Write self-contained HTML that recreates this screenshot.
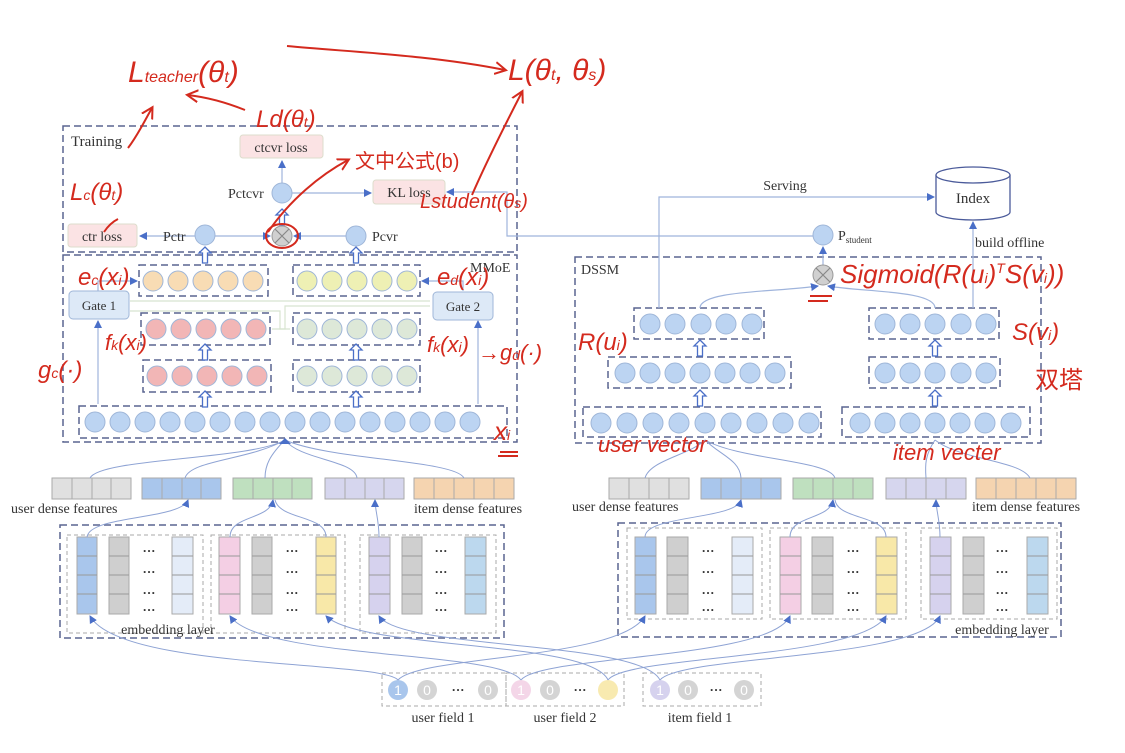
<!DOCTYPE html>
<html><head><meta charset="utf-8"><style>
html,body{margin:0;padding:0;background:#fff;}
svg{display:block;}
.t{font-family:"Liberation Serif",serif;fill:#333;}
.r{font-family:"Liberation Sans","Noto Sans CJK SC",sans-serif;fill:#d42a1e;font-style:italic;}
</style></head><body>
<svg width="1125" height="753" viewBox="0 0 1125 753" xmlns="http://www.w3.org/2000/svg">
<defs>
<circle id="c" r="10" stroke="#9fb6d8" stroke-width="1"/>
<marker id="a" markerWidth="8" markerHeight="8" refX="7" refY="4" orient="auto" markerUnits="userSpaceOnUse"><path d="M0,0 L8,4 L0,8 z" fill="#4a6fc8"/></marker>
<marker id="ra" markerWidth="14" markerHeight="14" refX="10" refY="7" orient="auto" markerUnits="userSpaceOnUse"><path d="M0,1 L11,7 L0,13" fill="none" stroke="#d42a1e" stroke-width="2"/></marker>
<g id="ua"><path d="M0,-8 L6,-2 L2.5,-2 L2.5,8 L-2.5,8 L-2.5,-2 L-6,-2 z" fill="#fff" stroke="#4a6fc8" stroke-width="1.3"/></g>
</defs>

<!-- main dashed boxes -->
<g fill="none" stroke="#5a6590" stroke-width="1.5" stroke-dasharray="7,4">
<rect x="63" y="126" width="454" height="126"/>
<rect x="63" y="255" width="454" height="187"/>
<rect x="575" y="257" width="466" height="186"/>
<!-- MMoE rows -->
<rect x="139" y="265" width="129" height="31"/>
<rect x="293" y="265" width="127" height="31"/>
<rect x="141" y="313" width="129" height="32"/>
<rect x="293" y="313" width="127" height="32"/>
<rect x="143" y="360" width="128" height="32"/>
<rect x="293" y="360" width="127" height="32"/>
<rect x="79" y="406" width="428" height="32"/>
<!-- DSSM rows -->
<rect x="634" y="308" width="130" height="31"/>
<rect x="608" y="357" width="183" height="31"/>
<rect x="583" y="407" width="238" height="30"/>
<rect x="869" y="308" width="130" height="31"/>
<rect x="869" y="357" width="131" height="31"/>
<rect x="842" y="407" width="188" height="30"/>
<!-- embedding boxes -->
<rect x="60" y="525" width="444" height="113"/>
<rect x="618" y="523" width="443" height="114"/>
</g>
<g fill="none" stroke="#aaa" stroke-width="1" stroke-dasharray="4,3">
<rect x="67" y="535" width="136" height="98"/><rect x="211" y="535" width="134" height="98"/><rect x="360" y="535" width="136" height="98"/>
<rect x="627" y="528" width="135" height="91"/><rect x="770" y="528" width="136" height="91"/><rect x="921" y="528" width="136" height="91"/>
<rect x="382" y="673" width="124" height="33"/><rect x="506" y="673" width="118" height="33"/><rect x="643" y="673" width="118" height="33"/>
</g>

<text class="t" x="71" y="146" font-size="15">Training</text>
<text class="t" x="470" y="272" font-size="14">MMoE</text>
<text class="t" x="581" y="274" font-size="14">DSSM</text>

<!-- loss boxes -->
<g fill="#fbe3e4" stroke="#ddc" stroke-width="1">
<rect x="240" y="135" width="83" height="23" rx="3"/>
<rect x="373" y="180" width="72" height="24" rx="3"/>
<rect x="68" y="224" width="69" height="23" rx="3"/>
</g>
<text class="t" x="281" y="152" font-size="14" text-anchor="middle">ctcvr loss</text>
<text class="t" x="409" y="197" font-size="14" text-anchor="middle">KL loss</text>
<text class="t" x="102" y="241" font-size="14" text-anchor="middle">ctr loss</text>

<!-- training connectors -->
<g stroke="#9fb4dc" stroke-width="1.2" fill="none">
<line x1="282" y1="183" x2="282" y2="161" marker-end="url(#a)"/>
<line x1="292" y1="193" x2="371" y2="193" marker-end="url(#a)"/>
<line x1="195" y1="236" x2="140" y2="236" marker-end="url(#a)"/>
<line x1="215" y1="236" x2="270" y2="236" marker-end="url(#a)"/>
<line x1="346" y1="236" x2="294" y2="236" marker-end="url(#a)"/>
<polyline points="813,236 507,236 507,192 447,192" marker-end="url(#a)"/>
<polyline points="659,308 659,197 934,197" marker-end="url(#a)"/>
<line x1="973" y1="308" x2="973" y2="222" marker-end="url(#a)"/>
<line x1="823" y1="265" x2="823" y2="247" marker-end="url(#a)"/>
<path d="M700,308 C700,290 780,292 818,286" marker-end="url(#a)"/>
<path d="M935,308 C935,290 860,292 828,286" marker-end="url(#a)"/>
<!-- gates -->
<polyline points="98,291 98,281 137,281" marker-end="url(#a)"/>
<polyline points="463,291 463,281 422,281" marker-end="url(#a)"/>
<line x1="98" y1="404" x2="98" y2="321" marker-end="url(#a)"/>
<line x1="478" y1="404" x2="478" y2="321" marker-end="url(#a)"/>
</g>
<g stroke="#d8e4d0" stroke-width="1.2" fill="none">
<line x1="430" y1="301" x2="130" y2="301"/>
<polyline points="272,329 285,329 285,306 430,306"/>
<polyline points="290,329 280,329 280,311 130,311"/>
</g>

<g fill="#bcd4f2">
<use href="#c" x="282" y="193"/><use href="#c" x="205" y="235"/><use href="#c" x="356" y="236"/>
<use href="#c" x="823" y="235"/>
</g>
<circle cx="282" cy="236" r="10" fill="#d0d0d0" stroke="#999"/>
<path d="M275,229 L289,243 M289,229 L275,243" stroke="#888" stroke-width="1.2"/>
<circle cx="823" cy="275" r="10" fill="#d0d0d0" stroke="#999"/>
<path d="M816,268 L830,282 M830,268 L816,282" stroke="#888" stroke-width="1.2"/>
<text class="t" x="163" y="241" font-size="14">Pctr</text>
<text class="t" x="372" y="241" font-size="14">Pcvr</text>
<text class="t" x="228" y="198" font-size="14">Pctcvr</text>
<text class="t" x="838" y="240" font-size="14">P<tspan font-size="9" dy="3">student</tspan></text>
<text class="t" x="785" y="190" font-size="14" text-anchor="middle">Serving</text>
<text class="t" x="975" y="247" font-size="14">build offline</text>

<!-- Index cylinder -->
<path d="M936,175 L936,212 A37,8 0 0 0 1010,212 L1010,175" fill="#fff" stroke="#4a5a9a" stroke-width="1.3"/>
<ellipse cx="973" cy="175" rx="37" ry="8" fill="#fff" stroke="#4a5a9a" stroke-width="1.3"/>
<text class="t" x="973" y="203" font-size="15" text-anchor="middle">Index</text>

<!-- gates -->
<rect x="69" y="291" width="60" height="28" rx="4" fill="#dde9f7" stroke="#9fb6d8"/>
<text class="t" x="99" y="310" font-size="13" text-anchor="middle">Gate 1</text>
<rect x="433" y="292" width="60" height="28" rx="4" fill="#dde9f7" stroke="#9fb6d8"/>
<text class="t" x="463" y="311" font-size="13" text-anchor="middle">Gate 2</text>

<!-- MMoE circles -->
<g fill="#f8dcb4"><use href="#c" x="153" y="281"/><use href="#c" x="178" y="281"/><use href="#c" x="203" y="281"/><use href="#c" x="228" y="281"/><use href="#c" x="253" y="281"/></g>
<g fill="#eef0b4"><use href="#c" x="307" y="281"/><use href="#c" x="332" y="281"/><use href="#c" x="357" y="281"/><use href="#c" x="382" y="281"/><use href="#c" x="407" y="281"/></g>
<g fill="#f2b6b6"><use href="#c" x="156" y="329"/><use href="#c" x="181" y="329"/><use href="#c" x="206" y="329"/><use href="#c" x="231" y="329"/><use href="#c" x="256" y="329"/>
<use href="#c" x="157" y="376"/><use href="#c" x="182" y="376"/><use href="#c" x="207" y="376"/><use href="#c" x="232" y="376"/><use href="#c" x="257" y="376"/></g>
<g fill="#dde8d8"><use href="#c" x="307" y="329"/><use href="#c" x="332" y="329"/><use href="#c" x="357" y="329"/><use href="#c" x="382" y="329"/><use href="#c" x="407" y="329"/>
<use href="#c" x="307" y="376"/><use href="#c" x="332" y="376"/><use href="#c" x="357" y="376"/><use href="#c" x="382" y="376"/><use href="#c" x="407" y="376"/></g>
<g fill="#bcd4f2">
<use href="#c" x="95" y="422"/><use href="#c" x="120" y="422"/><use href="#c" x="145" y="422"/><use href="#c" x="170" y="422"/><use href="#c" x="195" y="422"/><use href="#c" x="220" y="422"/><use href="#c" x="245" y="422"/><use href="#c" x="270" y="422"/><use href="#c" x="295" y="422"/><use href="#c" x="320" y="422"/><use href="#c" x="345" y="422"/><use href="#c" x="370" y="422"/><use href="#c" x="395" y="422"/><use href="#c" x="420" y="422"/><use href="#c" x="445" y="422"/><use href="#c" x="470" y="422"/>
<!-- DSSM -->
<use href="#c" x="650" y="324"/><use href="#c" x="675" y="324"/><use href="#c" x="701" y="324"/><use href="#c" x="726" y="324"/><use href="#c" x="752" y="324"/>
<use href="#c" x="625" y="373"/><use href="#c" x="650" y="373"/><use href="#c" x="675" y="373"/><use href="#c" x="700" y="373"/><use href="#c" x="725" y="373"/><use href="#c" x="750" y="373"/><use href="#c" x="775" y="373"/>
<use href="#c" x="601" y="423"/><use href="#c" x="627" y="423"/><use href="#c" x="653" y="423"/><use href="#c" x="679" y="423"/><use href="#c" x="705" y="423"/><use href="#c" x="731" y="423"/><use href="#c" x="757" y="423"/><use href="#c" x="783" y="423"/><use href="#c" x="809" y="423"/>
<use href="#c" x="885" y="324"/><use href="#c" x="910" y="324"/><use href="#c" x="935" y="324"/><use href="#c" x="961" y="324"/><use href="#c" x="986" y="324"/>
<use href="#c" x="885" y="373"/><use href="#c" x="910" y="373"/><use href="#c" x="935" y="373"/><use href="#c" x="961" y="373"/><use href="#c" x="986" y="373"/>
<use href="#c" x="860" y="423"/><use href="#c" x="885" y="423"/><use href="#c" x="910" y="423"/><use href="#c" x="935" y="423"/><use href="#c" x="960" y="423"/><use href="#c" x="985" y="423"/><use href="#c" x="1011" y="423"/>
</g>

<!-- hollow up arrows -->
<use href="#ua" x="205" y="255"/><use href="#ua" x="356" y="255"/><use href="#ua" x="282" y="217"/>
<use href="#ua" x="205" y="352"/><use href="#ua" x="356" y="352"/><use href="#ua" x="205" y="399"/><use href="#ua" x="356" y="399"/>
<use href="#ua" x="700" y="348"/><use href="#ua" x="700" y="398"/><use href="#ua" x="935" y="348"/><use href="#ua" x="935" y="398"/>

<!-- feature bars -->
<g stroke="#aaa" stroke-width="1">
<g fill="#e0e0e0"><rect x="52" y="478" width="79" height="21"/><rect x="609" y="478" width="80" height="21"/></g>
<g fill="#a9c6ec"><rect x="142" y="478" width="79" height="21"/><rect x="701" y="478" width="80" height="21"/></g>
<g fill="#bfe0bf"><rect x="233" y="478" width="79" height="21"/><rect x="793" y="478" width="80" height="21"/></g>
<g fill="#d6d6ee"><rect x="325" y="478" width="79" height="21"/><rect x="886" y="478" width="80" height="21"/></g>
<g fill="#f5d4b0"><rect x="414" y="478" width="100" height="21"/><rect x="976" y="478" width="100" height="21"/></g>
</g>
<g stroke="#aaa" stroke-width="1">
<path d="M72,478v21M92,478v21M111,478v21M162,478v21M182,478v21M201,478v21M253,478v21M273,478v21M292,478v21M345,478v21M365,478v21M384,478v21M434,478v21M454,478v21M474,478v21M494,478v21"/>
<path d="M629,478v21M649,478v21M669,478v21M721,478v21M741,478v21M761,478v21M813,478v21M833,478v21M853,478v21M906,478v21M926,478v21M946,478v21M996,478v21M1016,478v21M1036,478v21M1056,478v21"/>
</g>
<text class="t" x="11" y="513" font-size="14">user dense features</text>
<text class="t" x="414" y="513" font-size="14">item dense features</text>
<text class="t" x="572" y="511" font-size="14">user dense features</text>
<text class="t" x="972" y="511" font-size="14">item dense features</text>

<!-- embedding columns -->
<g stroke="#aaa" stroke-width="1">
<g fill="#a9c6ec"><rect x="77" y="537" width="20" height="77"/><rect x="635" y="537" width="21" height="77"/></g>
<g fill="#cfcfcf"><rect x="109" y="537" width="20" height="77"/><rect x="252" y="537" width="20" height="77"/><rect x="402" y="537" width="20" height="77"/>
<rect x="667" y="537" width="21" height="77"/><rect x="812" y="537" width="21" height="77"/><rect x="963" y="537" width="21" height="77"/></g>
<g fill="#e4ecf8"><rect x="172" y="537" width="21" height="77"/><rect x="732" y="537" width="21" height="77"/></g>
<g fill="#f4cfe4"><rect x="219" y="537" width="21" height="77"/><rect x="780" y="537" width="21" height="77"/></g>
<g fill="#f8e8a8"><rect x="316" y="537" width="20" height="77"/><rect x="876" y="537" width="21" height="77"/></g>
<g fill="#d6d2ee"><rect x="369" y="537" width="21" height="77"/><rect x="930" y="537" width="21" height="77"/></g>
<g fill="#bcd8ee"><rect x="465" y="537" width="21" height="77"/><rect x="1027" y="537" width="21" height="77"/></g>
<path d="M60,556h440M60,575h440M60,594h440" stroke="none"/>
</g>
<g stroke="#999" stroke-width="1">
<path d="M77,556h20M77,575h20M77,594h20M109,556h20M109,575h20M109,594h20M172,556h21M172,575h21M172,594h21M219,556h21M219,575h21M219,594h21M252,556h20M252,575h20M252,594h20M316,556h20M316,575h20M316,594h20M369,556h21M369,575h21M369,594h21M402,556h20M402,575h20M402,594h20M465,556h21M465,575h21M465,594h21"/>
<path d="M635,556h21M635,575h21M635,594h21M667,556h21M667,575h21M667,594h21M732,556h21M732,575h21M732,594h21M780,556h21M780,575h21M780,594h21M812,556h21M812,575h21M812,594h21M876,556h21M876,575h21M876,594h21M930,556h21M930,575h21M930,594h21M963,556h21M963,575h21M963,594h21M1027,556h21M1027,575h21M1027,594h21"/>
</g>
<g class="t" font-size="13" font-weight="bold" text-anchor="middle">
<text x="149" y="555">···</text><text x="149" y="576">···</text><text x="149" y="597">···</text><text x="149" y="614">···</text>
<text x="292" y="555">···</text><text x="292" y="576">···</text><text x="292" y="597">···</text><text x="292" y="614">···</text>
<text x="441" y="555">···</text><text x="441" y="576">···</text><text x="441" y="597">···</text><text x="441" y="614">···</text>
<text x="708" y="555">···</text><text x="708" y="576">···</text><text x="708" y="597">···</text><text x="708" y="614">···</text>
<text x="853" y="555">···</text><text x="853" y="576">···</text><text x="853" y="597">···</text><text x="853" y="614">···</text>
<text x="1002" y="555">···</text><text x="1002" y="576">···</text><text x="1002" y="597">···</text><text x="1002" y="614">···</text>
</g>
<text class="t" x="168" y="634" font-size="14" text-anchor="middle">embedding layer</text>
<text class="t" x="1002" y="634" font-size="14" text-anchor="middle">embedding layer</text>

<!-- fields -->
<circle cx="398" cy="690" r="10" fill="#a9c6ec"/><circle cx="427" cy="690" r="10" fill="#d4d4d4"/><circle cx="488" cy="690" r="10" fill="#d4d4d4"/>
<circle cx="521" cy="690" r="10" fill="#f4d6e8"/><circle cx="550" cy="690" r="10" fill="#d4d4d4"/><circle cx="608" cy="690" r="10" fill="#f8eab0"/>
<circle cx="660" cy="690" r="10" fill="#d6d2ee"/><circle cx="688" cy="690" r="10" fill="#d4d4d4"/><circle cx="744" cy="690" r="10" fill="#d4d4d4"/>
<g font-family="Liberation Sans,sans-serif" font-size="14" fill="#fff" text-anchor="middle">
<text x="398" y="695">1</text><text x="427" y="695">0</text><text x="488" y="695">0</text><text x="521" y="695">1</text><text x="550" y="695">0</text><text x="660" y="695">1</text><text x="688" y="695">0</text><text x="744" y="695">0</text></g>
<g class="t" font-size="13" font-weight="bold" text-anchor="middle"><text x="458" y="694">···</text><text x="580" y="694">···</text><text x="716" y="694">···</text></g>
<text class="t" x="443" y="722" font-size="14" text-anchor="middle">user field 1</text>
<text class="t" x="565" y="722" font-size="14" text-anchor="middle">user field 2</text>
<text class="t" x="700" y="722" font-size="14" text-anchor="middle">item field 1</text>

<!-- curved connectors -->
<g stroke="#8ea3d4" stroke-width="1" fill="none">
<path d="M285,440 C250,460 100,458 90,478"/><path d="M285,440 C250,460 190,460 185,478"/>
<path d="M285,440 C270,455 265,465 265,478"/><path d="M285,440 C300,460 355,460 357,478"/>
<path d="M285,440 C330,460 455,460 464,478"/>
<path d="M705,440 C690,455 650,460 645,478"/><path d="M705,440 C720,455 740,460 741,478"/>
<path d="M705,440 C740,460 830,460 835,478"/>
<path d="M935,440 C925,455 925,465 926,478"/><path d="M935,440 C960,460 1020,460 1030,478"/>
<path d="M87,537 C90,515 180,520 188,500" marker-end="url(#a)"/>
<path d="M230,537 C230,515 270,520 273,500" marker-end="url(#a)"/>
<path d="M326,537 C326,515 280,520 275,500"/>
<path d="M379,537 C379,520 375,510 375,500" marker-end="url(#a)"/>
<path d="M645,537 C645,515 735,520 741,500" marker-end="url(#a)"/>
<path d="M790,537 C790,515 830,520 833,500" marker-end="url(#a)"/>
<path d="M886,537 C886,515 838,520 835,500"/>
<path d="M940,537 C940,520 936,510 936,500" marker-end="url(#a)"/>
<path d="M398,680 C380,660 120,670 90,616" marker-end="url(#a)"/>
<path d="M398,680 C420,655 620,660 645,616" marker-end="url(#a)"/>
<path d="M521,680 C500,650 260,660 230,616" marker-end="url(#a)"/>
<path d="M521,680 C540,655 770,660 790,616" marker-end="url(#a)"/>
<path d="M608,680 C590,640 360,650 326,616" marker-end="url(#a)"/>
<path d="M608,680 C625,655 860,660 886,616" marker-end="url(#a)"/>
<path d="M660,680 C640,640 400,650 379,616" marker-end="url(#a)"/>
<path d="M660,680 C680,655 920,660 940,616" marker-end="url(#a)"/>
</g>
<path d="M285,438 l-6,6 h12 z" fill="#4a6fc8"/>

<!-- red handwritten annotations -->
<g class="r">
<text x="128" y="82" font-size="30">L<tspan font-size="16">teacher</tspan>(θ<tspan font-size="16">t</tspan>)</text>
<text x="508" y="80" font-size="30">L(θ<tspan font-size="16">t</tspan>, θ<tspan font-size="16">s</tspan>)</text>
<text x="256" y="127" font-size="24">Ld(θ<tspan font-size="14">t</tspan>)</text>
<text x="70" y="200" font-size="24">L<tspan font-size="14">c</tspan>(θ<tspan font-size="14">t</tspan>)</text>
<text x="355" y="168" font-size="20" font-style="normal">文中公式(b)</text>
<text x="420" y="208" font-size="20">Lstudent(θ<tspan font-size="14">s</tspan>)</text>
<text x="78" y="285" font-size="24">e<tspan font-size="14">c</tspan>(x<tspan font-size="14">i</tspan>)</text>
<text x="437" y="285" font-size="24">e<tspan font-size="14">d</tspan>(x<tspan font-size="14">i</tspan>)</text>
<text x="105" y="350" font-size="22">f<tspan font-size="14">k</tspan>(x<tspan font-size="14">i</tspan>)</text>
<text x="427" y="352" font-size="22">f<tspan font-size="14">k</tspan>(x<tspan font-size="14">i</tspan>)</text>
<text x="478" y="360" font-size="22">→g<tspan font-size="14">d</tspan>(·)</text>
<text x="38" y="378" font-size="24">g<tspan font-size="14">c</tspan>(·)</text>
<text x="494" y="440" font-size="26">x<tspan font-size="14">i</tspan></text>
<text x="840" y="283" font-size="26">Sigmoid(R(u<tspan font-size="14">i</tspan>)<tspan font-size="14" dy="-10">T</tspan><tspan dy="10">S(v</tspan><tspan font-size="14">i</tspan>))</text>
<text x="578" y="350" font-size="24">R(u<tspan font-size="14">i</tspan>)</text>
<text x="1012" y="340" font-size="24">S(v<tspan font-size="14">i</tspan>)</text>
<text x="1035" y="388" font-size="24" font-style="normal">双塔</text>
<text x="598" y="452" font-size="22">user vector</text>
<text x="893" y="460" font-size="22">item vecter</text>
</g>
<g stroke="#d42a1e" stroke-width="2" fill="none">
<path d="M287,46 C350,52 430,55 505,70" marker-end="url(#ra)"/>
<path d="M245,110 C225,102 205,97 188,95" marker-end="url(#ra)"/>
<path d="M128,148 C138,135 145,120 152,108" marker-end="url(#ra)"/>
<path d="M472,195 C485,165 505,125 522,92" marker-end="url(#ra)"/>
<path d="M268,232 C290,200 320,175 348,160" marker-end="url(#ra)"/>
<ellipse cx="282" cy="236" rx="16" ry="12"/>
<path d="M104,232 C108,226 112,222 118,219"/>
<path d="M500,452 h18 M498,456 h20"/>
<path d="M810,296 h22 M808,301 h20"/>
</g>
</svg>
</body></html>
